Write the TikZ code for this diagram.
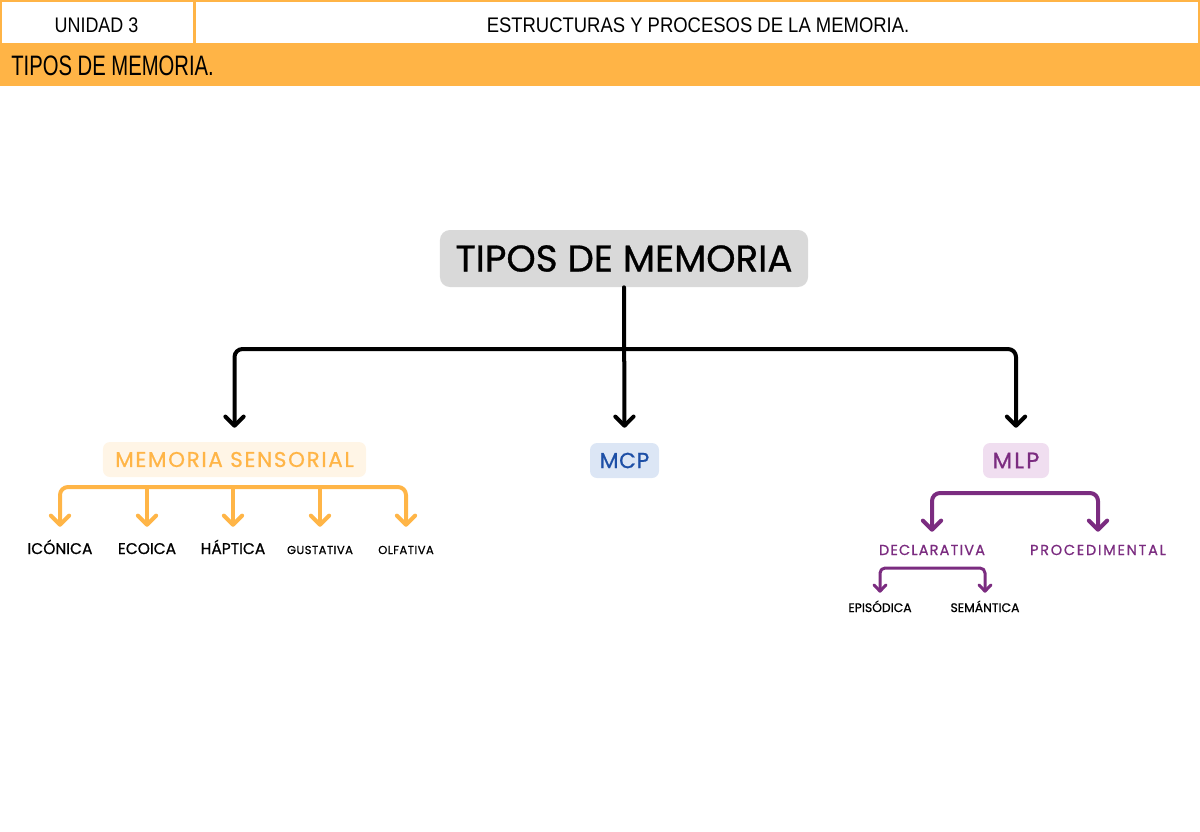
\documentclass[tikz,border=0pt]{standalone}
\usepackage{fontspec}
\setmainfont{Poppins}
\newfontfamily\medfont[FakeBold=0.8]{Poppins}
\newfontfamily\hdrfont{Liberation Sans}
\usepackage{graphicx}
\usetikzlibrary{arrows.meta,positioning}

\definecolor{hdrorange}{HTML}{FFB446}
\definecolor{boxgray}{HTML}{D9D9D9}
\definecolor{sensfill}{HTML}{FFF5E6}
\definecolor{sensorange}{HTML}{FFB547}
\definecolor{mcpfill}{HTML}{DCE6F5}
\definecolor{mcpblue}{HTML}{1D4FA6}
\definecolor{mlpfill}{HTML}{F0DEF0}
\definecolor{mlppurple}{HTML}{7B2C80}

\def\pxu{0.7113pt}

\begin{document}
\begin{tikzpicture}[x=0.025cm,y=-0.025cm,
  hdrtext/.style={inner sep=0, anchor=base},
  mainbox/.style={rounded corners=7*\pxu, inner sep=0, minimum height=35*\pxu},
  leaf/.style={inner sep=0, anchor=base, text height=7.8pt, text depth=0pt},
  blkarrow/.style={line width=4*\pxu, line cap=round, line join=round, rounded corners=8*\pxu,
    >={Straight Barb[round,length=6.5pt,width=13pt]}},
  sensarrow/.style={blkarrow, draw=sensorange},
  mlparrow/.style={blkarrow, draw=mlppurple},
  smallarrow/.style={line width=3*\pxu, line cap=round, line join=round, rounded corners=5*\pxu,
    draw=mlppurple, >={Straight Barb[round,length=4.5pt,width=8.5pt]}}]

\useasboundingbox (0,0) rectangle (1200,831);

% header
\fill[hdrorange] (0,0) rectangle (1200,86);
\fill[white] (2,2) rectangle (193,43);
\fill[white] (196,2) rectangle (1198,43);
\node[hdrtext] (unidad) at (96.5,32) {\hdrfont\fontsize{15}{18}\selectfont\scalebox{0.85}[1]{UNIDAD 3}};
\node[hdrtext] (tema) at (698,32) {\hdrfont\fontsize{15}{18}\selectfont\scalebox{0.875}[1]{ESTRUCTURAS Y PROCESOS DE LA MEMORIA.}};
\node[hdrtext, anchor=base west] (seccion) at (11,75) {\hdrfont\fontsize{20}{24}\selectfont\scalebox{0.72}[1]{TIPOS DE MEMORIA.}};

% main boxes
\node[mainbox, fill=boxgray, minimum width=368*\pxu, minimum height=57*\pxu, rounded corners=10*\pxu,
  font=\medfont\fontsize{26.5}{30}\selectfont] (tipos) at (624,258.5) {TIPOS DE MEMORIA};
\node[mainbox, fill=sensfill, minimum width=263*\pxu, text=sensorange,
  font=\medfont\fontsize{15.2}{18}\selectfont\addfontfeature{LetterSpace=8}] (ms) at (234.5,459.5) {MEMORIA SENSORIAL};
\node[mainbox, fill=mcpfill, minimum width=69*\pxu, text=mcpblue,
  font=\medfont\fontsize{15.5}{18}\selectfont\addfontfeature{LetterSpace=3}] (mcp) at (624.5,460.5) {MCP};
\node[mainbox, fill=mlpfill, minimum width=66*\pxu, text=mlppurple,
  font=\medfont\fontsize{16}{18}\selectfont\addfontfeature{LetterSpace=10}] (mlp) at (1016,460.5) {MLP};

% sensorial
\node[leaf, font=\medfont\fontsize{11}{13}\selectfont] (iconica) at (60,554) {ICÓNICA};
\node[leaf, font=\medfont\fontsize{11}{13}\selectfont] (ecoica) at (147,554) {ECOICA};
\node[leaf, font=\medfont\fontsize{11}{13}\selectfont] (haptica) at (233,554) {HÁPTICA};
\node[leaf, font=\medfont\fontsize{8.2}{10}\selectfont\addfontfeature{LetterSpace=4}] (gustativa) at (320,554) {GUSTATIVA};
\node[leaf, font=\medfont\fontsize{8.2}{10}\selectfont\addfontfeature{LetterSpace=4}] (olfativa) at (406,554) {OLFATIVA};

% largo plazo
\node[leaf, text height=7.1pt, text=mlppurple, font=\medfont\fontsize{10.3}{12}\selectfont\addfontfeature{LetterSpace=8}] (declarativa) at (932,555) {DECLARATIVA};
\node[leaf, text height=7.1pt, text=mlppurple, font=\medfont\fontsize{10.3}{12}\selectfont\addfontfeature{LetterSpace=12}] (procedimental) at (1098,555) {PROCEDIMENTAL};
\node[leaf, text height=6.4pt, font=\medfont\fontsize{8.8}{10}\selectfont] (episodica) at (880,612) {EPISÓDICA};
\node[leaf, text height=6.4pt, font=\medfont\fontsize{8.8}{10}\selectfont] (semantica) at (985,612) {SEMÁNTICA};

\coordinate (split) at (624,349);
\coordinate (sbar) at (233,487);
\coordinate (pbar) at (1016,493);
\coordinate (dbar) at (931,568);

\draw[blkarrow, ->, shorten >=15*\pxu] (tipos.south) -- (mcp.north);
\draw[blkarrow, <->, shorten <=14*\pxu, shorten >=15*\pxu] (ms.north) |- (split) -| (mlp.north);

\draw[sensarrow, <->, shorten <=16*\pxu, shorten >=16*\pxu] (iconica.north) |- (sbar) -| (olfativa.north);
\draw[sensarrow, ->, shorten >=16*\pxu] (ecoica.north |- sbar) -- (ecoica.north);
\draw[sensarrow, ->, shorten >=16*\pxu] (haptica.north |- sbar) -- (haptica.north);
\draw[sensarrow, ->, shorten >=16*\pxu] (gustativa.north |- sbar) -- (gustativa.north);

\draw[mlparrow, <->, shorten <=13*\pxu, shorten >=13*\pxu] (declarativa.north) |- (pbar) -| (procedimental.north);
\draw[smallarrow, <->, shorten <=10*\pxu, shorten >=10*\pxu] (episodica.north) |- (dbar) -| (semantica.north);

\end{tikzpicture}
\end{document}
